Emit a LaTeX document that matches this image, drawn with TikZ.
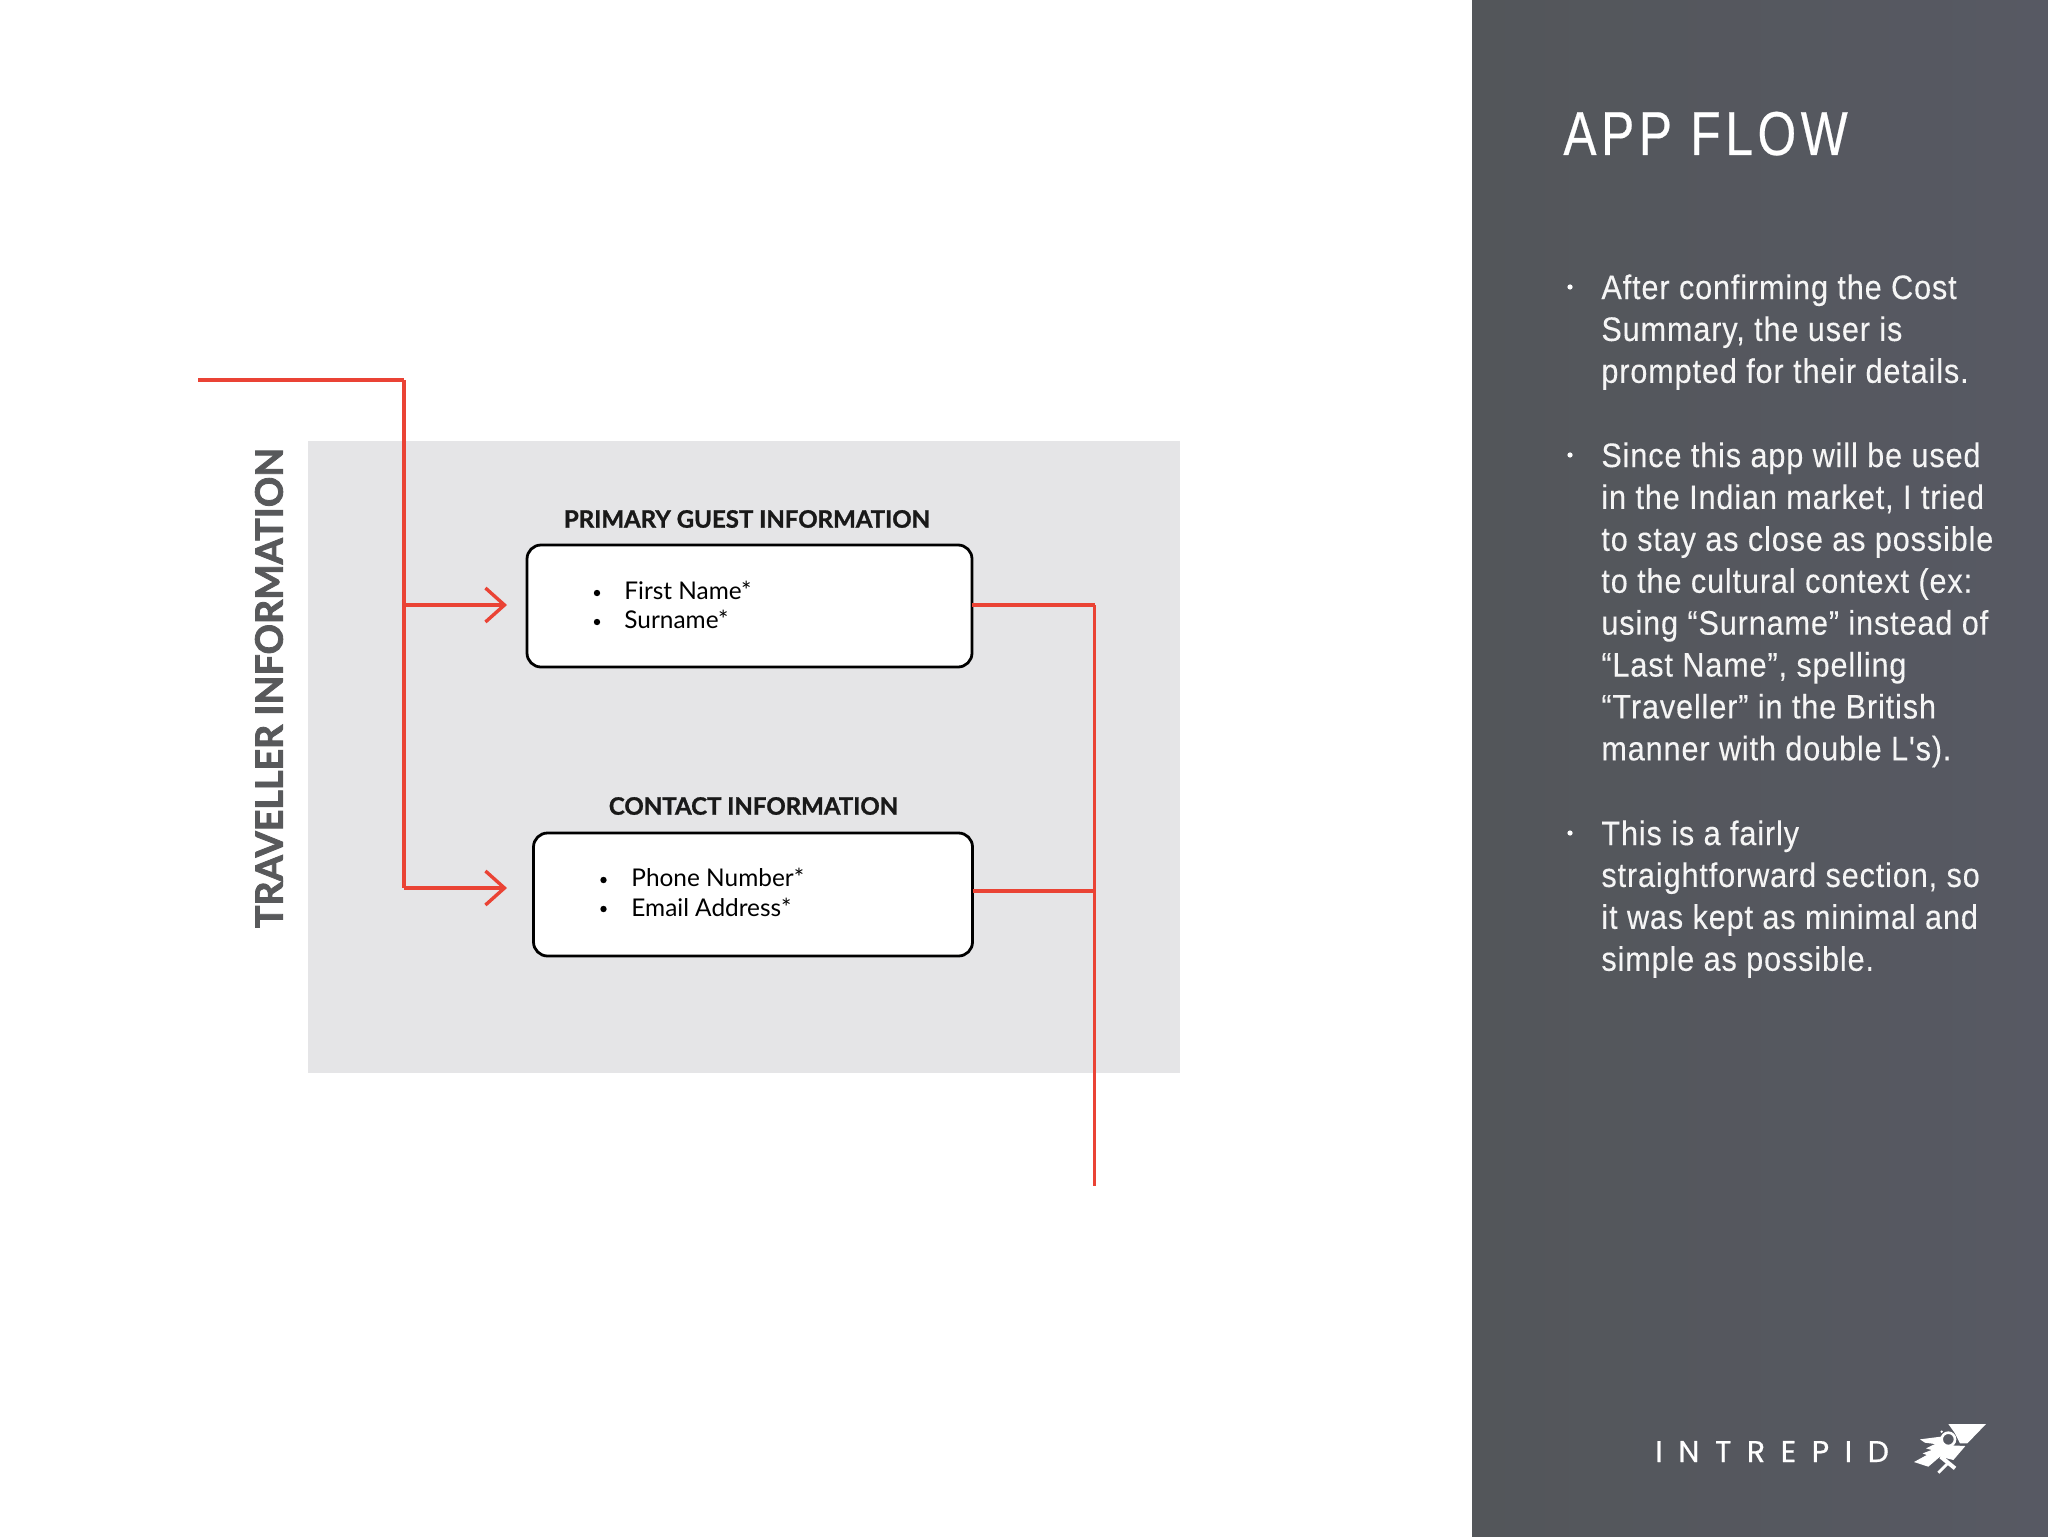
\documentclass[tikz,border=0pt]{standalone}
\usepackage{fontspec}
\usetikzlibrary{arrows.meta}
\setmainfont{Liberation Sans}
\newfontfamily\condfont[FakeStretch=0.90,LetterSpace=2.6,FakeBold=0.2]{Liberation Sans}
\newfontfamily\titlefont[FakeStretch=0.80,LetterSpace=7.5,FakeBold=0.4]{Liberation Sans}
\newfontfamily\labfont[BoldFeatures={FakeBold=1.2}]{Lato}
\newfontfamily\sidefont[BoldFeatures={FakeBold=2.2}]{Lato}
\newfontfamily\fieldfont{Lato}
\newfontfamily\logofont[LetterSpace=52,FakeBold=0.6]{Poppins}
\definecolor{panelA}{HTML}{53565A}
\definecolor{panelB}{HTML}{575963}
\definecolor{flowred}{HTML}{EA4335}
\definecolor{zonegray}{HTML}{E5E5E7}
\definecolor{sidetext}{HTML}{58595B}
\tikzset{
  flow/.style={draw=flowred,line width=1.8pt},
  flowh/.style={draw=flowred,line width=2pt},
  flowarrow/.style={flowh,-{Straight Barb[length=9.5pt,width=17pt,line width=1.7pt]}},
  fieldbox/.style={draw=black,line width=1.4pt,fill=white,rounded corners=7pt,inner sep=0pt,outer sep=0pt,anchor=north west},
  heading/.style={font=\labfont\bfseries\fontsize{12}{14}\selectfont,inner sep=0pt,text=black!90},
  field/.style={font=\fieldfont\fontsize{12.2}{14}\selectfont,inner sep=0pt,anchor=base west,text=black},
  bulletdot/.style={circle,fill=black,inner sep=0pt,minimum size=3.2pt},
  para/.style={font=\condfont\fontsize{17}{20.95}\selectfont,text=white!96!black,inner sep=0pt,anchor=north west,align=left},
  sidebullet/.style={circle,fill=white,inner sep=0pt,minimum size=2.6pt},
}
\begin{document}
\begin{tikzpicture}[x=0.5pt,y=-0.5pt]
\useasboundingbox (0,0) rectangle (2048,1536);
\fill[white] (0,0) rectangle (2048,1536);
\shade[left color=panelA,right color=panelB] (1472,0) rectangle (2048,1536);
\fill[zonegray] (308,441) rectangle (1180,1073);
% side label
\node[rotate=90,inner sep=0pt,text=sidetext] (side) at (269,688) {\sidefont\bfseries\fontsize{18.8}{24}\selectfont TRAVELLER INFORMATION};
% boxes
\node[fieldbox,minimum width=222.5pt,minimum height=61pt] (b1) at (527,545) {};
\node[fieldbox,minimum width=219.5pt,minimum height=61.5pt] (b2) at (533.5,833) {};
\node[heading] (h1) at (747,519) {PRIMARY GUEST INFORMATION};
\node[heading] (h2) at (753.5,806) {CONTACT INFORMATION};
\node[field] (f1) at (624,599) {First Name*};
\node[field] (f2) at (624,628) {Surname*};
\node[field] (f3) at (631,886) {Phone Number*};
\node[field] (f4) at (631,916) {Email Address*};
\node[bulletdot] (d1) at (597,593) {};
\node[bulletdot] (d2) at (597,622) {};
\node[bulletdot] (d3) at (603.5,880) {};
\node[bulletdot] (d4) at (603.5,909) {};
% flow lines
\coordinate (start) at (198,380);
\coordinate (bend) at (404,380);
\coordinate (j1) at (404,605);
\coordinate (j2) at (404,888);
\coordinate (t1) at (507,605);
\coordinate (t2) at (507,888);
\coordinate (r1) at (1094.5,605);
\coordinate (r2) at (1094.5,890.5);
\coordinate (endp) at (1094.5,1186);
\draw[flowh] (start) -- (bend);
\draw[flow] (bend) -- (j2);
\draw[flowarrow] (j1) -- (t1);
\draw[flowarrow] (j2) -- (t2);
\draw[flowh] (b1.east |- j1) -- (r1);
\draw[flow] (r1) -- (endp);
\draw[flowh] (b2.east |- r2) -- (r2);
% panel text
\node[inner sep=0pt,anchor=base west,text=white] (title) at (1563,155) {\titlefont\fontsize{31}{34}\selectfont APP FLOW};
\node[sidebullet] (s1) at (1570,287) {};
\node[sidebullet] (s2) at (1570,455) {};
\node[sidebullet] (s3) at (1570,833) {};
\node[para] (p1) at (1601,274) {After confirming the Cost\\Summary, the user is\\prompted for their details.};
\node[para] (p2) at (1601,442) {Since this app will be used\\in the Indian market, I tried\\to stay as close as possible\\to the cultural context (ex:\\using “Surname” instead of\\“Last Name”, spelling\\“Traveller” in the British\\manner with double L's).};
\node[para] (p3) at (1601,820) {This is a fairly\\straightforward section, so\\it was kept as minimal and\\simple as possible.};
% logo
\node[inner sep=0pt,anchor=base west,text=white] (logo) at (1655,1462) {\logofont\fontsize{15}{18}\selectfont INTREPID};
\begin{scope}[shift={(1620,1400)},xscale=1/3,yscale=1/3]
  \fill[white] (985,72) -- (1098,72) -- (1042,130) -- (1020,130) -- (1005,100) -- cycle;
  \draw[white,line width=1.3pt] (985,118) circle [radius=20];
  \fill[white] (965,95) circle [radius=4];
  \fill[white] (900,118) -- (962,110) -- (972,135) -- (1036,138) -- (1000,180) -- (960,170) -- (925,200) -- (882,186) -- (920,165) -- (908,160) -- (935,150) -- (918,145) -- (945,132) -- (915,128) -- cycle;
  \draw[white,line width=1.4pt] (955,218) -- (985,188);
  \draw[white,line width=2pt] (962,170) -- (1005,205);
\end{scope}
\end{tikzpicture}
\end{document}
